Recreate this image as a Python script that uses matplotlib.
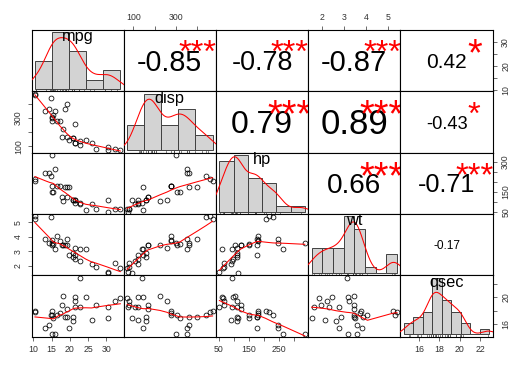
import numpy as np
import matplotlib
matplotlib.use("Agg")
import matplotlib.pyplot as plt

plt.rcParams['font.family'] = ['Liberation Sans', 'DejaVu Sans']

# mtcars columns
names = ["mpg", "disp", "hp", "wt", "qsec"]
mpg = [21.0, 21.0, 22.8, 21.4, 18.7, 18.1, 14.3, 24.4, 22.8, 19.2, 17.8, 16.4, 17.3, 15.2, 10.4, 10.4,
       14.7, 32.4, 30.4, 33.9, 21.5, 15.5, 15.2, 13.3, 19.2, 27.3, 26.0, 30.4, 15.8, 19.7, 15.0, 21.4]
disp = [160, 160, 108, 258, 360, 225, 360, 146.7, 140.8, 167.6, 167.6, 275.8, 275.8, 275.8, 472, 460,
        440, 78.7, 75.7, 71.1, 120.1, 318, 304, 350, 400, 79, 120.3, 95.1, 351, 145, 301, 121]
hp = [110, 110, 93, 110, 175, 105, 245, 62, 95, 123, 123, 180, 180, 180, 205, 215,
      230, 66, 52, 65, 97, 150, 150, 245, 175, 66, 91, 113, 264, 175, 335, 109]
wt = [2.620, 2.875, 2.320, 3.215, 3.440, 3.460, 3.570, 3.190, 3.150, 3.440, 3.440, 4.070, 3.730, 3.780,
      5.250, 5.424, 5.345, 2.200, 1.615, 1.835, 2.465, 3.520, 3.435, 3.840, 3.845, 1.935, 2.140, 1.513,
      3.170, 2.770, 3.570, 2.780]
qsec = [16.46, 17.02, 18.61, 19.44, 17.02, 20.22, 15.84, 20.00, 22.90, 18.30, 18.90, 17.40, 17.60, 18.00,
        17.98, 17.82, 17.42, 19.47, 18.52, 19.90, 20.01, 16.87, 17.30, 15.41, 17.05, 18.90, 16.70, 16.90,
        14.50, 15.50, 14.60, 18.60]

# histogram breaks (R "FD")
mpg_breaks = [10, 15, 20, 25, 30, 35]
disp_breaks = [0, 100, 200, 300, 400, 500]
hp_breaks = [50, 100, 150, 200, 250, 300, 350]
wt_breaks = [1.5, 2, 2.5, 3, 3.5, 4, 4.5, 5, 5.5]
qsec_breaks = [14, 15, 16, 17, 18, 19, 20, 21, 22, 23]

# axis ticks and the labels R kept
mpg_ticks = [10, 15, 20, 25, 30]
disp_ticks = [100, 200, 300, 400]
hp_ticks = [50, 100, 150, 200, 250, 300]
wt_ticks = [2, 3, 4, 5]
qsec_ticks = [16, 18, 20, 22]
mpg_lab_x = ["10", "15", "20", "25", "30"]
mpg_lab_y = ["10", "", "20", "", "30"]
disp_lab = ["100", "", "300", ""]
hp_lab_x = ["50", "", "150", "", "250", ""]
hp_lab_y = ["50", "", "150", "", "", "300"]
wt_lab = ["2", "3", "4", "5"]
qsec_lab_x = ["16", "18", "20", "22"]
qsec_lab_y = ["16", "", "20", ""]

# significance stars for upper panels, row by row
stars = {(0, 1): "***", (0, 2): "***", (0, 3): "***", (0, 4): "*",
         (1, 2): "***", (1, 3): "***", (1, 4): "*",
         (2, 3): "***", (2, 4): "***", (3, 4): ""}

data = [np.array(v, float) for v in (mpg, disp, hp, wt, qsec)]
breaks = [np.array(b, float) for b in (mpg_breaks, disp_breaks, hp_breaks, wt_breaks, qsec_breaks)]


def ext(lo, hi):
    d = 0.04 * (hi - lo)
    return lo - d, hi + d


def lowess(x, y, f=2/3, iters=3):
    o = np.argsort(x, kind="stable")
    x, y = x[o], y[o]
    n = len(x)
    ns = max(min(int(f * n + 1e-7), n), 2)
    rw = np.ones(n)
    ys = y.copy()
    for it in range(iters + 1):
        for i in range(n):
            d = np.abs(x - x[i])
            h = np.sort(d)[ns - 1]
            w = np.zeros(n)
            m = d <= 0.999 * h
            w[m] = np.where(d[m] > 0.001 * h, (1 - (d[m] / h) ** 3) ** 3, 1.0)
            w *= rw
            if w.sum() <= 0:
                ys[i] = y[i]
                continue
            w /= w.sum()
            if h > 0:
                a = np.sum(w * x)
                b = x[i] - a
                c = np.sum(w * (x - a) ** 2)
                if np.sqrt(c) > 0.001 * (x[-1] - x[0]):
                    w = w * (b / c * (x - a) + 1)
            ys[i] = np.sum(w * y)
        if it == iters:
            break
        r = np.abs(y - ys)
        cmad = 6 * np.median(r)
        if cmad < 1e-7:
            break
        rw = np.where(r <= 0.001 * cmad, 1.0,
                      np.where(r <= 0.999 * cmad, (1 - (r / cmad) ** 2) ** 2, 0.0))
    return x, ys


def density(x):
    n = len(x)
    q75, q25 = np.percentile(x, [75, 25])
    bw = 0.9 * min(np.std(x, ddof=1), (q75 - q25) / 1.34) * n ** -0.2
    g = np.linspace(x.min() - 3 * bw, x.max() + 3 * bw, 512)
    dens = np.exp(-0.5 * ((g[:, None] - x[None, :]) / bw) ** 2).sum(1) / (n * bw * np.sqrt(2 * np.pi))
    return g, dens


W, H = 525, 369
fig = plt.figure(figsize=(W / 100, H / 100), dpi=100)
renderer = fig.canvas.get_renderer()

left, right, top, bottom = 31.5, 492.7, 30.0, 336.7
pw = (right - left) / 5
ph = (bottom - top) / 5

lims = [ext(d.min(), d.max()) for d in data]
ticks = [mpg_ticks, disp_ticks, hp_ticks, wt_ticks, qsec_ticks]
tick_kw = dict(length=2.9, width=0.6, colors="#555555", labelsize=6.3, labelcolor="#333333", pad=3.2)

axes = [[None] * 5 for _ in range(5)]
for i in range(5):
    for j in range(5):
        ax = fig.add_axes([(left + j * pw) / W, (H - bottom + (4 - i) * ph) / H, pw / W, ph / H])
        ax.set_xlim(lims[j])
        ax.set_ylim(lims[i])
        ax.set_xticks([])
        ax.set_yticks([])
        for s in ax.spines.values():
            s.set_linewidth(0.8)
        axes[i][j] = ax

# lower panels: points + lowess
for i in range(5):
    for j in range(i):
        ax = axes[i][j]
        ax.plot(data[j], data[i], "o", mfc="none", mec="black", ms=3.5, mew=0.55)
        lx, ly = lowess(data[j], data[i])
        ax.plot(lx, ly, color="#FF0000", lw=0.75)

# upper panels: correlation text + stars
for i in range(5):
    for j in range(i + 1, 5):
        ax = axes[i][j]
        r = np.corrcoef(data[i], data[j])[0, 1]
        txt = f"{r:.2f}"
        t = ax.text(0, 0, txt, fontsize=10)
        wpx = t.get_window_extent(renderer).width
        t.remove()
        fs = 10 * 0.8 * pw / wpx  # points so that txt spans 0.8 of panel
        fs_main = fs * (abs(r) + 0.3) / 1.3
        cap = 0.716 * fs_main / 0.72  # px
        ax.text(0.5, 0.5 - 0.5 * cap / ph, txt, transform=ax.transAxes, fontsize=fs_main,
                ha="center", va="baseline")
        s = stars[(i, j)]
        if s:
            spx = fs / 0.72
            ax.text(0.8, 0.8 - (1.2 + 0.575 * spx) / ph, s, transform=ax.transAxes, fontsize=fs,
                    color="#FF0000", ha="center", va="baseline", clip_on=True)

# diagonal: histogram, density, rug, label
for k in range(5):
    ax = axes[k][k]
    x = data[k]
    b = breaks[k]
    counts = np.histogram(-x, bins=-b[::-1])[0][::-1]
    dens = counts / (len(x) * np.diff(b))
    hx = fig.add_axes(ax.get_position())
    hx.set_axis_off()
    hx.bar(b[:-1], dens, width=np.diff(b), align="edge", color="#D3D3D3", edgecolor="#404040", lw=0.7)
    g, dv = density(x)
    hx.plot(g, dv, color="#FF0000", lw=0.75)
    hx.set_xlim(ext(b[0], b[-1]))
    hx.set_ylim(ext(0, dens.max()))
    for v in x:
        hx.plot([v, v], [0, 0.03], color="#404040", lw=0.5,
                transform=hx.get_xaxis_transform())
    hx.text(0.5, 0.813, names[k], transform=hx.transAxes, fontsize=11.8, ha="center", va="baseline")

# outer axes
lab_x = [mpg_lab_x, disp_lab, hp_lab_x, wt_lab, qsec_lab_x]
lab_y = [mpg_lab_y, disp_lab, hp_lab_y, wt_lab, qsec_lab_y]
for k in range(5):
    if k % 2 == 0:
        ax = axes[4][k]
        ax.set_xticks(ticks[k], lab_x[k])
        ax.tick_params(axis="x", bottom=True, **tick_kw)
        ax = axes[k][4]
        ax.yaxis.tick_right()
        ax.set_yticks(ticks[k], lab_y[k], rotation=90, va="center")
        ax.tick_params(axis="y", right=True, **tick_kw)
    else:
        ax = axes[0][k]
        ax.xaxis.tick_top()
        ax.set_xticks(ticks[k], lab_x[k])
        ax.tick_params(axis="x", top=True, **tick_kw)
        ax = axes[k][0]
        ax.set_yticks(ticks[k], lab_y[k], rotation=90, va="center")
        ax.tick_params(axis="y", left=True, **tick_kw)

fig.savefig("out.png", dpi=100)
